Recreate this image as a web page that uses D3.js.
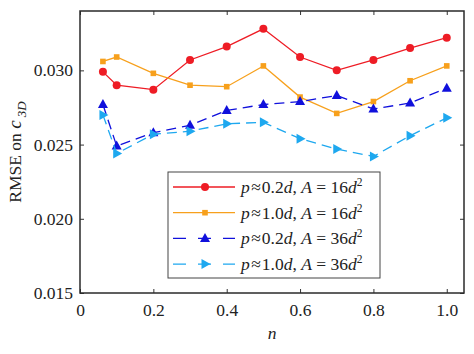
<!DOCTYPE html>
<html>
<head>
<meta charset="utf-8">
<script src="https://cdn.jsdelivr.net/npm/d3@7"></script>
<style>
  body { margin: 0; background: #fff; }
  svg text { font-family: "Liberation Serif", "Times New Roman", Times, serif; fill: #222; }
</style>
</head>
<body>
<div class="d3-wrapper"></div>
<script>
// Data
const nValues = [0.0625, 0.1, 0.2, 0.3, 0.4, 0.5, 0.6, 0.7, 0.8, 0.9, 1.0];
const redP02A16 = [0.0299, 0.0290, 0.0287, 0.0307, 0.0316, 0.0328, 0.0309, 0.0300, 0.0307, 0.0315, 0.0322];
const orangeP10A16 = [0.0306, 0.0309, 0.0298, 0.0290, 0.0289, 0.0303, 0.0282, 0.0271, 0.0279, 0.0293, 0.0303];
const blueP02A36 = [0.0277, 0.0249, 0.0258, 0.0263, 0.0273, 0.0277, 0.0279, 0.0283, 0.0274, 0.0278, 0.0288];
const cyanP10A36 = [0.0270, 0.0244, 0.0257, 0.0259, 0.0264, 0.0265, 0.0254, 0.0247, 0.0242, 0.0256, 0.0268];
const xTicks = [0, 0.2, 0.4, 0.6, 0.8, 1.0];
const yTicks = [0.015, 0.020, 0.025, 0.030];
const legendP = ['0.2', '1.0', '0.2', '1.0'];
const legendA = ['16', '16', '36', '36'];

const MARGIN = { top: 11, right: 10, bottom: 61, left: 80 };
const OUTER_WIDTH = 474,
  OUTER_HEIGHT = 354,
  INNER_WIDTH = OUTER_WIDTH - MARGIN.left - MARGIN.right,
  INNER_HEIGHT = OUTER_HEIGHT - MARGIN.top - MARGIN.bottom;

const series = [
  { values: redP02A16, color: '#ee1c25', dash: null, marker: 'circle' },
  { values: orangeP10A16, color: '#f7a01c', dash: null, marker: 'square' },
  { values: blueP02A36, color: '#1010dc', dash: '10,6', marker: 'triUp' },
  { values: cyanP10A36, color: '#1ea8ef', dash: '10,6', marker: 'triRight' }
];

const xScale = d3.scaleLinear().domain([0, 1.047]).range([0, INNER_WIDTH]);
const yScale = d3.scaleLinear().domain([0.015, 0.034]).range([INNER_HEIGHT, 0]);

const svg = d3.select('.d3-wrapper').append('svg')
  .attr('width', OUTER_WIDTH)
  .attr('height', OUTER_HEIGHT)
  .append('g')
  .attr('transform', `translate(${MARGIN.left}, ${MARGIN.top})`);

// axes with inward ticks
const xAxis = d3.axisBottom(xScale).tickValues(xTicks).tickSizeInner(-4).tickSizeOuter(0)
  .tickPadding(11).tickFormat(d => d === 0 ? '0' : d3.format('.1f')(d));
const xAxisTop = d3.axisTop(xScale).tickValues(xTicks).tickSizeInner(-4).tickSizeOuter(0).tickFormat('');
const yAxis = d3.axisLeft(yScale).tickValues(yTicks).tickSizeInner(-4).tickSizeOuter(0)
  .tickPadding(7).tickFormat(d3.format('.3f'));
const yAxisRight = d3.axisRight(yScale).tickValues(yTicks).tickSizeInner(-4).tickSizeOuter(0).tickFormat('');

function styleAxis(g) {
  g.attr('font-family', null);
  g.select('.domain').remove();
  g.selectAll('line').attr('stroke', '#333').attr('stroke-width', 1);
  g.selectAll('text').attr('font-size', 17.5).attr('fill', '#222');
}

svg.append('g').attr('transform', `translate(0, ${INNER_HEIGHT})`).call(xAxis).call(styleAxis);
svg.append('g').call(xAxisTop).call(styleAxis);
svg.append('g').call(yAxis).call(styleAxis);
svg.append('g').attr('transform', `translate(${INNER_WIDTH}, 0)`).call(yAxisRight).call(styleAxis);

const line = d3.line()
  .x((d, i) => xScale(nValues[i]))
  .y(d => yScale(d));

function drawMarker(g, type, color) {
  if (type === 'circle') {
    g.append('circle').attr('r', 4).attr('fill', color);
  } else if (type === 'square') {
    g.append('rect').attr('x', -2.8).attr('y', -2.8).attr('width', 5.6).attr('height', 5.6).attr('fill', color);
  } else if (type === 'triUp') {
    g.append('path').attr('d', 'M0,-5.5L5,3.5L-5,3.5Z').attr('fill', color);
  } else {
    g.append('path').attr('d', 'M5.5,0L-3.5,5L-3.5,-5Z').attr('fill', color);
  }
}

series.forEach(s => {
  svg.append('path')
    .datum(s.values)
    .attr('d', line)
    .attr('fill', 'none')
    .attr('stroke', s.color)
    .attr('stroke-width', 1.3)
    .attr('stroke-dasharray', s.dash);
  s.values.forEach((v, i) => {
    const g = svg.append('g').attr('transform', `translate(${xScale(nValues[i])}, ${yScale(v)})`);
    drawMarker(g, s.marker, s.color);
  });
});

// plot frame
svg.append('rect')
  .attr('width', INNER_WIDTH)
  .attr('height', INNER_HEIGHT)
  .attr('fill', 'none')
  .attr('stroke', '#2a2a2a')
  .attr('stroke-width', 1.5);

// legend
const legend = svg.append('g').attr('transform', `translate(${168 - MARGIN.left}, ${172 - MARGIN.top})`);
legend.append('rect')
  .attr('width', 212)
  .attr('height', 106)
  .attr('fill', '#fff')
  .attr('stroke', '#444')
  .attr('stroke-width', 1);

series.forEach((s, i) => {
  const row = legend.append('g').attr('transform', `translate(0, ${15 + i * 25.7})`);
  row.append('line')
    .attr('x1', 5).attr('x2', 67)
    .attr('stroke', s.color)
    .attr('stroke-width', 1.3)
    .attr('stroke-dasharray', s.dash ? '13,12' : null);
  drawMarker(row.append('g').attr('transform', 'translate(37, 0)'), s.marker, s.color);
  const t = row.append('text')
    .attr('x', 73)
    .attr('y', 6)
    .attr('font-size', 17.5);
  t.append('tspan').attr('font-style', 'italic').text('p');
  t.append('tspan').attr('dx', 1.5).text('≈');
  t.append('tspan').attr('dx', 1).text(legendP[i]);
  t.append('tspan').attr('font-style', 'italic').text('d');
  t.append('tspan').text(', ');
  t.append('tspan').attr('font-style', 'italic').text('A');
  t.append('tspan').text(' = ' + legendA[i]);
  t.append('tspan').attr('font-style', 'italic').text('d');
  t.append('tspan').attr('font-size', 11.5).attr('dy', -7).text('2');
});

// axis labels
svg.append('text')
  .attr('x', INNER_WIDTH / 2)
  .attr('y', INNER_HEIGHT + 46)
  .attr('text-anchor', 'middle')
  .attr('font-size', 17.5)
  .attr('font-style', 'italic')
  .text('n');

const yLabel = svg.append('text')
  .attr('transform', 'rotate(-90)')
  .attr('x', -INNER_HEIGHT / 2)
  .attr('y', -59)
  .attr('text-anchor', 'middle')
  .attr('font-size', 17.5);
yLabel.append('tspan').text('RMSE  on  ');
yLabel.append('tspan').attr('font-style', 'italic').attr('font-size', 19).text('c');
yLabel.append('tspan').attr('font-style', 'italic').attr('font-size', 13).attr('dy', 5).text(' 3D');
</script>
</body>
</html>
